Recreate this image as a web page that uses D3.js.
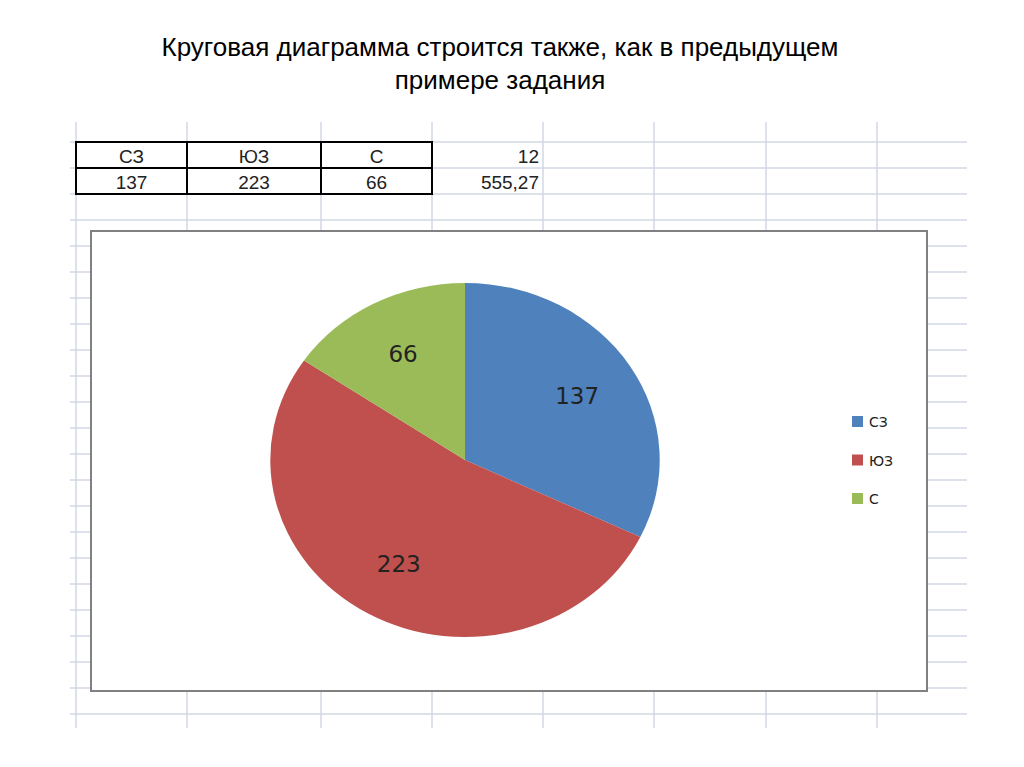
<!DOCTYPE html>
<html><head><meta charset="utf-8">
<script src="https://cdn.jsdelivr.net/npm/d3@7"></script>
<style>body{margin:0;background:#fff}</style>
</head><body>
<script>
// data
var categories = ["СЗ", "ЮЗ", "С"];
var values = [137, 223, 66];
var extraCells = ["12", "555,27"];
var colors = ["#4F81BD", "#C0504D", "#9BBB59"];

var svg = d3.select("body").append("svg").attr("width", 1024).attr("height", 767);

// title
svg.append("text").attr("x", 500).attr("y", 56).attr("text-anchor", "middle")
    .style("font", "26px 'Liberation Sans', Arial").text("Круговая диаграмма строится также, как в предыдущем");
svg.append("text").attr("x", 500).attr("y", 89).attr("text-anchor", "middle")
    .style("font", "26px 'Liberation Sans', Arial").text("примере задания");

// spreadsheet grid
var colX = [76, 187, 321, 432, 543, 654, 766, 877];
var rowY = d3.range(142, 730, 26);
var grid = svg.append("g").attr("stroke", "#d0d7e5").attr("stroke-width", 1.5);
colX.forEach(function(x) { grid.append("line").attr("x1", x).attr("x2", x).attr("y1", 122).attr("y2", 728); });
rowY.forEach(function(y) { grid.append("line").attr("x1", 70).attr("x2", 967).attr("y1", y).attr("y2", y); });

// table
var tbl = svg.append("g").style("font", "19px 'Liberation Sans', Arial").attr("fill", "#222");
tbl.append("rect").attr("x", 76).attr("y", 142).attr("width", 356).attr("height", 52)
    .attr("fill", "none").attr("stroke", "#000").attr("stroke-width", 2);
tbl.append("line").attr("x1", 76).attr("x2", 432).attr("y1", 168).attr("y2", 168).attr("stroke", "#000").attr("stroke-width", 2);
[187, 321].forEach(function(x) {
    tbl.append("line").attr("x1", x).attr("x2", x).attr("y1", 142).attr("y2", 194).attr("stroke", "#000").attr("stroke-width", 2);
});
categories.forEach(function(c, i) {
    var cx = (colX[i] + colX[i + 1]) / 2;
    tbl.append("text").attr("x", cx).attr("y", 163).attr("text-anchor", "middle").text(c);
    tbl.append("text").attr("x", cx).attr("y", 189).attr("text-anchor", "middle").text(values[i]);
});
extraCells.forEach(function(t, i) {
    tbl.append("text").attr("x", 539).attr("y", 163 + i * 26).attr("text-anchor", "end").text(t);
});

// chart area
svg.append("rect").attr("x", 91).attr("y", 231).attr("width", 836).attr("height", 460)
    .attr("fill", "#fff").attr("stroke", "#808080").attr("stroke-width", 2);

var r = 177;
var pie = d3.pie().sort(null)(values);
var arc = d3.arc().innerRadius(0).outerRadius(r);
var labelArc = d3.arc().innerRadius(r * 0.68).outerRadius(r * 0.68);
var g = svg.append("g").attr("transform", "translate(465,460) scale(1.1,1)");
g.selectAll("path").data(pie).enter().append("path")
    .attr("d", arc).attr("fill", function(d, i) { return colors[i]; });

svg.selectAll(".lbl").data(pie).enter().append("text")
    .attr("x", function(d) { return 465 + labelArc.centroid(d)[0] * 1.1; })
    .attr("y", function(d) { return 460 + labelArc.centroid(d)[1] + 8; })
    .attr("text-anchor", "middle").style("font", "23px 'DejaVu Sans'").attr("fill", "#222")
    .text(function(d) { return d.data; });

// legend
var lg = svg.append("g");
categories.forEach(function(c, i) {
    lg.append("rect").attr("x", 852).attr("y", 416 + i * 38.5).attr("width", 11).attr("height", 11).attr("fill", colors[i]);
    lg.append("text").attr("x", 869).attr("y", 427 + i * 38.5).style("font", "14px 'DejaVu Sans'").attr("fill", "#222").text(c);
});
</script>
</body></html>
